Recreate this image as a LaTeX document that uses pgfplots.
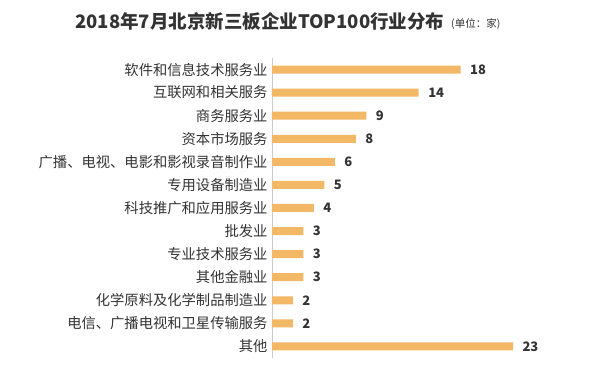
\documentclass[border=0pt]{standalone}
\usepackage{fontspec}
\setmainfont{Noto Sans CJK SC}
\usepackage{pgfplots}
\pgfplotsset{compat=1.18}
\definecolor{barc}{HTML}{F2B866}
\definecolor{txt}{HTML}{333333}
\begin{document}
\begin{tikzpicture}[x=1pt,y=1pt]
\useasboundingbox (0,0) rectangle (600,374);
\fill[white] (0,0) rectangle (600,374);
\node[anchor=base west, text=txt, inner sep=0] at (75,345) {\fontsize{18.5}{20}\selectfont\bfseries 2018年7月北京新三板企业TOP100行业分布};
\node[anchor=base west, text=txt, inner sep=0] at (451,346) {\fontsize{10.5}{12}\selectfont (单位：家)};
\begin{axis}[
  at={(272pt,16pt)}, anchor=south west,
  scale only axis, width=262pt, height=300pt,
  xmin=0, xmax=25, ymin=-0.5, ymax=12.5,
  hide x axis,
  axis y line*=left,
  y axis line style={draw=black!20, line width=0.8pt, -},
  ytick={0,...,12},
  yticklabels={其他,电信、广播电视和卫星传输服务,化学原料及化学制品制造业,其他金融业,专业技术服务业,批发业,科技推广和应用服务业,专用设备制造业,广播、电视、电影和影视录音制作业,资本市场服务,商务服务业,互联网和相关服务,软件和信息技术服务业},
  yticklabel style={font=\fontsize{14.3}{15}\selectfont, text=txt, xshift=-1pt},
  major tick length=0pt,
  xbar, bar width=8pt,
  nodes near coords,
  nodes near coords style={font=\fontsize{13}{14}\selectfont\bfseries, text=txt, xshift=6pt},
  /pgf/number format/assume math mode=true,
  point meta=x,
  clip=false,
]
\addplot[fill=barc, draw=none] coordinates {
(23,0) (2,1) (2,2) (3,3) (3,4) (3,5) (4,6) (5,7) (6,8) (8,9) (9,10) (14,11) (18,12)};
\end{axis}
\end{tikzpicture}
\end{document}
